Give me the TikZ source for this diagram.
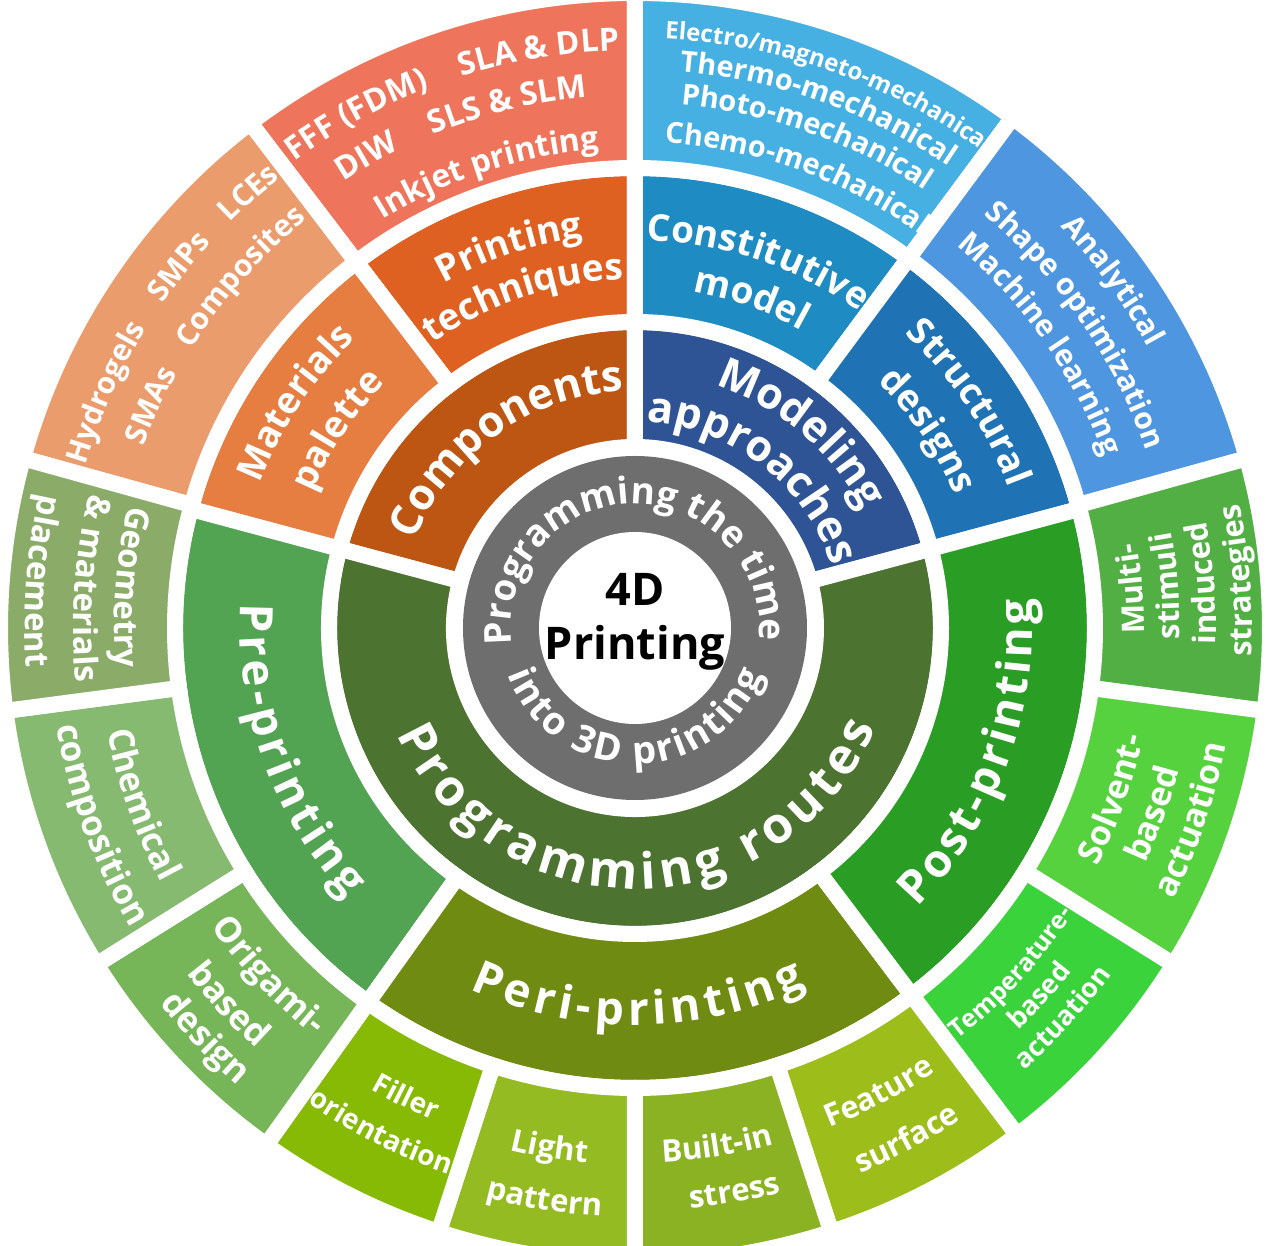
\documentclass[tikz,border=0pt]{standalone}
\usepackage{fontspec}
\setmainfont{Open Sans}
\usetikzlibrary{decorations.text}

\definecolor{ringgrey}{RGB}{110,110,110}
\definecolor{compo}{RGB}{189,86,18}
\definecolor{printtech}{RGB}{222,97,34}
\definecolor{matpal}{RGB}{229,126,64}
\definecolor{techlist}{RGB}{238,117,91}
\definecolor{matlist}{RGB}{235,156,108}
\definecolor{modapp}{RGB}{47,84,150}
\definecolor{constmod}{RGB}{31,139,195}
\definecolor{structdes}{RGB}{31,114,180}
\definecolor{stimlist}{RGB}{70,176,226}
\definecolor{designlist}{RGB}{78,150,224}
\definecolor{progroute}{RGB}{77,115,48}
\definecolor{preprint}{RGB}{82,163,82}
\definecolor{periprint}{RGB}{112,139,18}
\definecolor{postprint}{RGB}{42,158,36}
\definecolor{geomat}{RGB}{138,172,104}
\definecolor{chemcomp}{RGB}{133,186,112}
\definecolor{origami}{RGB}{118,182,88}
\definecolor{filler}{RGB}{134,186,4}
\definecolor{lightpat}{RGB}{148,187,34}
\definecolor{builtin}{RGB}{139,178,34}
\definecolor{feature}{RGB}{157,190,26}
\definecolor{tempact}{RGB}{59,211,59}
\definecolor{solvact}{RGB}{86,210,63}
\definecolor{multistim}{RGB}{82,175,67}

\tikzset{ringcut/.style={draw=white,line width=16pt}}

\newcommand{\lab}[1]{\fontsize{#1}{#1}\selectfont\bfseries\color{white}}

% inner radius, outer radius, start angle, end angle, colour
\newcommand{\ringpart}[5]{%
  \filldraw [ringcut,fill=#5] (#3:#1) arc [start angle=#3,end angle=#4,radius=#1]
    -- (#4:#2) arc [start angle=#4,end angle=#3,radius=#2] -- cycle;}

% radius, centre angle, half span, size, text
\newcommand{\toparc}[5]{%
  \path [decorate,decoration={text along path,text align=center,text={|\lab{#4}|#5}}]
    (#2+#3:#1) arc [start angle=#2+#3,end angle=#2-#3,radius=#1];}
\newcommand{\botarc}[5]{%
  \path [decorate,decoration={text along path,text align=center,text={|\lab{#4}|#5}}]
    (#2-#3:#1) arc [start angle=#2-#3,end angle=#2+#3,radius=#1];}

% radius, start angle, end angle, size, text
\newcommand{\fitarc}[5]{%
  \path [decorate,decoration={text along path,text align=fit to path,text={|\lab{#4}|#5}}]
    (#2:#1) arc [start angle=#2,end angle=#3,radius=#1];}

% radius, start angle, size, text
\newcommand{\leftarc}[4]{%
  \path [decorate,decoration={text along path,text align=left,text={|\lab{#3}|#4}}]
    (#2:#1) arc [start angle=#2,end angle=#2-45,radius=#1];}

\begin{document}
\begin{tikzpicture}[x=1pt,y=1pt]

  \useasboundingbox (-635,-618) rectangle (635,628);
  \clip (-635,-618) rectangle (635,628);

  \fill [ringgrey] (0,0) circle [radius=172];
  \fill [white] (0,0) circle [radius=96];

  \ringpart{181}{306}{90}{165}{compo}
  \ringpart{181}{306}{15}{90}{modapp}
  \ringpart{181}{306}{165}{375}{progroute}

  \ringpart{306}{460}{90}{127.3}{printtech}
  \ringpart{306}{460}{127.3}{165}{matpal}
  \ringpart{306}{460}{53.5}{90}{constmod}
  \ringpart{306}{460}{15}{53.5}{structdes}
  \ringpart{306}{460}{165}{234.5}{preprint}
  \ringpart{306}{460}{234.5}{307}{periprint}
  \ringpart{306}{460}{307}{375}{postprint}

  \ringpart{460}{635}{90}{127.3}{techlist}
  \ringpart{460}{635}{127.3}{164.5}{matlist}
  \ringpart{460}{635}{53.5}{90}{stimlist}
  \ringpart{460}{635}{15.5}{53.5}{designlist}
  \ringpart{460}{635}{-7.5}{15.5}{multistim}
  \ringpart{460}{635}{-32}{-7.5}{solvact}
  \ringpart{460}{635}{-53}{-32}{tempact}
  \ringpart{460}{635}{-72}{-53}{feature}
  \ringpart{460}{635}{-90}{-72}{builtin}
  \ringpart{460}{635}{252}{270}{lightpat}
  \ringpart{460}{635}{234.5}{252}{filler}
  \ringpart{460}{635}{212}{234.5}{origami}
  \ringpart{460}{635}{187.5}{212}{chemcomp}
  \ringpart{460}{635}{164.5}{187.5}{geomat}

  \node [align=center,font=\fontsize{45}{54}\selectfont\bfseries] (core) at (0,6) {4D\\Printing};
  \toparc{124}{91}{97}{37}{Programming the time}
  \fitarc{136}{200}{340}{38}{into 3D printing}

  \toparc{237}{125.5}{37}{43}{Components}
  \toparc{256}{49.5}{34}{43}{Modeling}
  \toparc{206}{52}{37}{43}{approaches}
  \fitarc{261}{204}{337.5}{50}{Programming routes}

  \toparc{394}{108.3}{25}{37}{Printing}
  \toparc{349}{108.7}{25}{37}{techniques}
  \toparc{402}{146.5}{25}{37}{Materials}
  \toparc{350}{146.4}{25}{37}{palette}
  \toparc{388}{71.5}{25}{37}{Constitutive}
  \toparc{341}{70.5}{25}{37}{model}
  \toparc{399}{34}{25}{37}{Structural}
  \toparc{346}{34}{25}{37}{designs}
  \fitarc{395}{176.5}{223.2}{46}{Pre-printing}
  \fitarc{397}{245.4}{295.6}{46}{Peri-printing}
  \fitarc{397}{315.3}{364.2}{46}{Post-printing}

  \toparc{578}{118.5}{20}{32}{FFF (FDM)}
  \toparc{578}{99.5}{20}{32}{SLA {\&} DLP}
  \toparc{533}{119.7}{20}{32}{DIW}
  \toparc{533}{103.7}{20}{32}{SLS {\&} SLM}
  \toparc{480}{108}{25}{32}{Inkjet printing}

  \toparc{573}{156}{20}{30}{Hydrogels}
  \toparc{573}{141.6}{20}{30}{SMPs}
  \toparc{573}{131.6}{20}{30}{LCEs}
  \toparc{524}{155.3}{20}{30}{SMAs}
  \toparc{524}{138.3}{20}{30}{Composites}

  \leftarc{590}{87.1}{24}{Electro/magneto-mechanical}
  \leftarc{558}{85.4}{29}{Thermo-mechanical}
  \leftarc{525}{85.0}{29}{Photo-mechanical}
  \leftarc{486}{86.5}{29}{Chemo-mechanical}

  \toparc{585}{36}{25}{30}{Analytical}
  \toparc{541}{34.5}{25}{30}{Shape optimization}
  \toparc{499}{35}{25}{30}{Machine learning}

  \botarc{509}{4.5}{20}{31}{Multi-}
  \botarc{545}{4.5}{20}{31}{stimuli}
  \botarc{581}{4.5}{20}{31}{induced}
  \botarc{617}{4.5}{20}{31}{strategies}

  \botarc{520}{340.3}{20}{34}{Solvent-}
  \botarc{562}{340.3}{20}{34}{based}
  \botarc{603}{341}{20}{34}{actuation}

  \botarc{523}{317.5}{20}{25}{Temperature-}
  \botarc{556}{317.7}{20}{27}{based}
  \botarc{589}{317.7}{20}{27}{actuation}

  \botarc{536}{297.7}{15}{31}{Feature}
  \botarc{590}{298}{15}{31}{surface}
  \botarc{535}{279}{15}{31}{Built-in}
  \botarc{583}{280}{15}{31}{stress}
  \botarc{537}{260.7}{15}{31}{Light}
  \botarc{589}{261}{15}{31}{pattern}
  \botarc{532}{244}{15}{28}{Filler}
  \botarc{577}{243.3}{15}{28}{orientation}

  \botarc{519}{223.5}{20}{35}{Origami-}
  \botarc{566}{222.8}{20}{35}{based}
  \botarc{606}{223.7}{20}{35}{design}
  \botarc{538}{199.7}{20}{35}{Chemical}
  \botarc{587}{200.2}{20}{35}{composition}
  \botarc{521}{175.4}{20}{33}{Geometry}
  \botarc{562}{175.9}{20}{33}{{\&} materials}
  \botarc{610}{175.5}{20}{33}{placement}

\end{tikzpicture}
\end{document}
